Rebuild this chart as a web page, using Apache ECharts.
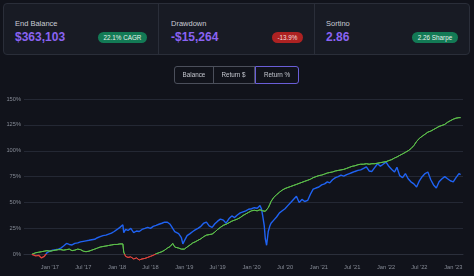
<!DOCTYPE html>
<html>
<head>
<meta charset="utf-8">
<script src="https://cdn.jsdelivr.net/npm/echarts@6/dist/echarts.min.js"></script>
<style>
  html, body { margin: 0; padding: 0; background: #11131b; }
  body { width: 474px; height: 276px; position: relative; overflow: hidden;
         font-family: "Liberation Sans", Arial, sans-serif; }
  #chart { position: absolute; left: 0; top: 0; width: 474px; height: 276px; }
  .cards { position: absolute; left: 3px; top: 3px; width: 465px; height: 50px;
           border: 1px solid #2a2e39; border-radius: 4px; background: #181b24; z-index: 2; }
  .sep { position: absolute; top: 0; bottom: 0; width: 1px; background: #2a2e39; }
  .lbl { position: absolute; top: 15px; height: 10px; line-height: 10px; font-size: 7.5px; color: #c9ccd4; }
  .val { position: absolute; top: 26px; height: 14px; line-height: 14px; font-size: 12px;
         font-weight: bold; color: #8a63f2; }
  .badge { position: absolute; top: 28px; height: 11px; line-height: 11px; font-size: 6.3px;
           border-radius: 6px; text-align: center; color: #e6f2ec; }
  .btns { position: absolute; top: 66px; left: 174px; height: 18px; z-index: 2; }
  .btn { position: absolute; top: 0; height: 16px; line-height: 16px; border: 1px solid #4b4f5b;
         font-size: 6.3px; color: #c4c7cf; text-align: center; box-sizing: content-box; }
</style>
</head>
<body>
<div id="chart"></div>

<div class="cards">
  <div class="sep" style="left:154px"></div>
  <div class="sep" style="left:310px"></div>

  <div class="lbl" style="left:11px">End Balance</div>
  <div class="val" style="left:11px">$363,103</div>
  <div class="badge" style="left:94px;width:49px;background:#137a55">22.1% CAGR</div>

  <div class="lbl" style="left:167px">Drawdown</div>
  <div class="val" style="left:167px">-$15,264</div>
  <div class="badge" style="left:268px;width:31px;background:#ad2222;color:#f4dede">-13.9%</div>

  <div class="lbl" style="left:322px">Sortino</div>
  <div class="val" style="left:322px">2.86</div>
  <div class="badge" style="left:408px;width:46px;background:#137a55">2.26 Sharpe</div>
</div>

<div class="btns">
  <div class="btn" style="left:0;width:38px;border-radius:3px 0 0 3px">Balance</div>
  <div class="btn" style="left:39px;width:41px;border-left:none">Return $</div>
  <div class="btn" style="left:81px;width:42px;border-color:#6a5ed8;border-radius:0 3px 3px 0">Return %</div>
</div>

<script>
// dates (half-monthly closes, plus a few turning points)
var dates = [
  '2016-09-25','2016-10-01','2016-10-16','2016-11-01','2016-11-16','2016-12-01','2016-12-16',
  '2017-01-01','2017-01-16','2017-02-01','2017-02-16','2017-03-01','2017-03-16','2017-04-01','2017-04-16',
  '2017-05-01','2017-05-16','2017-06-01','2017-06-16','2017-07-01','2017-07-16','2017-08-01','2017-08-16',
  '2017-09-01','2017-09-16','2017-10-01','2017-10-16','2017-11-01','2017-11-16','2017-12-01','2017-12-16',
  '2018-01-01','2018-01-16','2018-02-01','2018-02-06','2018-02-16','2018-03-01','2018-03-16','2018-04-01',
  '2018-04-16','2018-05-01','2018-05-16','2018-06-01','2018-06-16','2018-07-01','2018-07-16','2018-08-01',
  '2018-08-16','2018-09-01','2018-09-16','2018-10-01','2018-10-16','2018-10-30','2018-11-10','2018-11-20',
  '2018-12-01','2018-12-16','2018-12-24',
  '2019-01-01','2019-01-16','2019-02-01','2019-02-16','2019-03-01','2019-03-16','2019-04-01','2019-04-16',
  '2019-05-01','2019-05-16','2019-06-01','2019-06-16','2019-07-01','2019-07-16','2019-08-01','2019-08-16',
  '2019-09-01','2019-09-16','2019-10-01','2019-10-16','2019-11-01','2019-11-16','2019-12-01','2019-12-16',
  '2020-01-01','2020-01-16','2020-02-01','2020-02-16','2020-02-24','2020-03-01','2020-03-10','2020-03-16',
  '2020-03-23','2020-04-01','2020-04-09','2020-04-16','2020-05-01','2020-05-16','2020-06-01','2020-06-16',
  '2020-07-01','2020-07-16','2020-08-01','2020-08-16','2020-09-01','2020-09-16','2020-10-01','2020-10-16',
  '2020-11-01','2020-11-16','2020-12-01','2020-12-16',
  '2021-01-01','2021-01-16','2021-02-01','2021-02-16','2021-03-01','2021-03-16','2021-04-01','2021-04-16',
  '2021-05-01','2021-05-16','2021-06-01','2021-06-16','2021-07-01','2021-07-16','2021-08-01','2021-08-16',
  '2021-09-01','2021-09-16','2021-10-01','2021-10-16','2021-11-01','2021-11-16','2021-12-01','2021-12-16',
  '2022-01-01','2022-01-16','2022-02-01','2022-02-16','2022-03-01','2022-03-16','2022-04-01','2022-04-16',
  '2022-05-01','2022-05-16','2022-06-01','2022-06-16','2022-07-01','2022-07-16','2022-08-01','2022-08-16',
  '2022-09-01','2022-09-16','2022-10-01','2022-10-16','2022-11-01','2022-11-16','2022-12-01','2022-12-16',
  '2023-01-01','2023-01-16','2023-02-01','2023-02-10'
];

// strategy return % (blue)
var strategy = [
  0, -0.5, -1.5, -1, -3.5, -2, 1.5,
  3, 4, 4.5, 5, 6, 8, 10.5, 9.5, 9, 10.5, 11, 12, 12.5, 13, 13.5, 14, 14.5, 16, 17, 18, 18.5, 19.5, 20.5, 22,
  24, 26, 28.5, 21, 24, 23, 25, 21, 22.5, 22, 24, 25, 26, 25, 27, 28, 29, 30, 31, 31, 29, 25, 22, 21, 20, 16, 10,
  13, 18, 20, 22, 23.5, 25, 27, 30, 31, 27.5, 26, 29.5, 32, 34, 33, 30, 34.5, 37, 35.5, 38, 40, 41, 42, 43.5,
  44, 45, 44.5, 47, 44, 38, 28, 15, 8.7, 22, 27, 30, 33, 36, 40, 42, 44, 47, 50, 53, 56, 50, 53, 51, 52, 58, 63, 64,
  65, 67, 68, 70, 69, 72, 74, 75, 76.5, 75.5, 77, 78, 79, 80, 81, 81.5, 83, 84.5, 80.5, 80, 84, 87.5, 85, 87,
  89, 85, 82, 79.5, 84, 76, 74, 78, 73, 70, 68, 65, 71, 75, 78, 79.5, 72, 67, 64, 70, 73, 75, 73, 71,
  70, 74, 78, 77
];

// benchmark return % (green)
var benchmark = [
  0, 0.5, 1.5, 2, 2.5, 3, 3.5,
  3, 3.5, 4, 4.5, 4.5, 4, 4.5, 5, 3.5, 4, 5, 4.5, 3, 2.5, 3, 4, 5, 6, 7, 7.5, 8, 8.5, 9, 9.5,
  9.5, 10, 10, 2, -2, -3, -2.5, -4.5, -3.5, -5.5, -4.5, -4, -3, -2, -1, 0.5, 1.5, 2.5, 4, 6, 7.5, 10.5, 7, 6.5, 6, 5, 3.5,
  5, 7, 9, 11, 12, 13.5, 15, 17, 18.5, 19, 19.5, 21.5, 24, 26, 28, 29, 30.5, 32, 33, 34, 35.5, 37.5, 39, 40.5,
  42, 42.5, 42, 43, 42.5, 42, 41, 41.5, 42, 45, 48, 51, 55, 57.5, 60, 62, 63.5, 64.5, 65.5, 66.5, 67.5, 68.5, 69.5, 70.5, 71.5, 72.5, 74, 75,
  76, 76.5, 77.5, 78.5, 79, 79.5, 80.5, 81, 81.5, 82, 83, 84, 85, 85.5, 86.5, 87, 87, 87.5, 87, 87.5, 87.5, 88, 88.5, 89,
  89.5, 90.5, 91.5, 93, 94, 95.5, 97, 98.5, 100, 102, 105, 109, 112, 114, 116, 118, 119, 120.5, 122, 123.5, 124.5, 125.5, 127.5, 129,
  130.5, 131.5, 132, 132
];

var xTicks = ['2017-01-01','2017-07-01','2018-01-01','2018-07-01','2019-01-01','2019-07-01','2020-01-01',
  '2020-07-01','2021-01-01','2021-07-01','2022-01-01','2022-07-01','2023-01-01'];
var xTickLabels = ["Jan '17","Jul '17","Jan '18","Jul '18","Jan '19","Jul '19","Jan '20",
  "Jul '20","Jan '21","Jul '21","Jan '22","Jul '22","Jan '23"];
var yTicks = [0, 25, 50, 75, 100, 125, 150];

var toTime = function (s) { return echarts.time.parse(s).getTime(); };
var xTickTimes = xTicks.map(toTime);
var labelByTime = {};
xTickTimes.forEach(function (t, i) { labelByTime[t] = xTickLabels[i]; });

var chart = echarts.init(document.getElementById('chart'));
var gridColor = '#242834';
var textColor = '#868b96';
var blue = '#1f62f2', green = '#5cbf4a', red = '#e0443c';

chart.setOption({
  animation: false,
  grid: { left: 24, right: 11, top: 99, bottom: 15.5 },
  xAxis: {
    type: 'value',
    min: toTime('2016-08-13'),
    max: toTime('2023-02-23'),
    axisLine: { show: true, lineStyle: { color: '#2b2f3b' } },
    axisTick: { show: false, customValues: xTickTimes },
    splitLine: { show: false },
    axisLabel: {
      customValues: xTickTimes,
      color: textColor,
      fontSize: 5.7,
      margin: 4,
      formatter: function (v) { return labelByTime[v] || ''; }
    }
  },
  yAxis: {
    type: 'value',
    min: -6,
    max: 150,
    axisLine: { show: false },
    axisTick: { show: false, customValues: yTicks },
    splitLine: { show: true, lineStyle: { color: gridColor, width: 1 } },
    axisLabel: {
      customValues: yTicks,
      color: textColor,
      fontSize: 5.7,
      margin: 3,
      formatter: '{value}%'
    }
  },
  series: [
    {
      name: 'Strategy',
      type: 'line',
      showSymbol: false,
      lineStyle: { width: 1.4, color: blue },
      data: dates.map(function (d, i) { return [toTime(d), strategy[i]]; })
    },
    {
      name: 'Benchmark',
      type: 'line',
      showSymbol: false,
      lineStyle: { width: 1, color: green },
      data: dates.map(function (d, i) { return [toTime(d), benchmark[i]]; })
    }
  ]
});

// below 0% the lines turn red: hard-stop gradient at the pixel of the zero line
var yTop = chart.convertToPixel({ yAxisIndex: 0 }, 150);
var yBot = chart.convertToPixel({ yAxisIndex: 0 }, -6);
var yZero = chart.convertToPixel({ yAxisIndex: 0 }, 0);
var f = (yZero - yTop) / (yBot - yTop);
function splitColor(c) {
  return {
    type: 'linear', global: true, x: 0, y: yTop, x2: 0, y2: yBot,
    colorStops: [
      { offset: 0, color: c }, { offset: f, color: c },
      { offset: f, color: red }, { offset: 1, color: red }
    ]
  };
}
chart.setOption({
  series: [
    { lineStyle: { color: splitColor(blue) } },
    { lineStyle: { color: splitColor(green) } }
  ]
});
</script>
</body>
</html>
